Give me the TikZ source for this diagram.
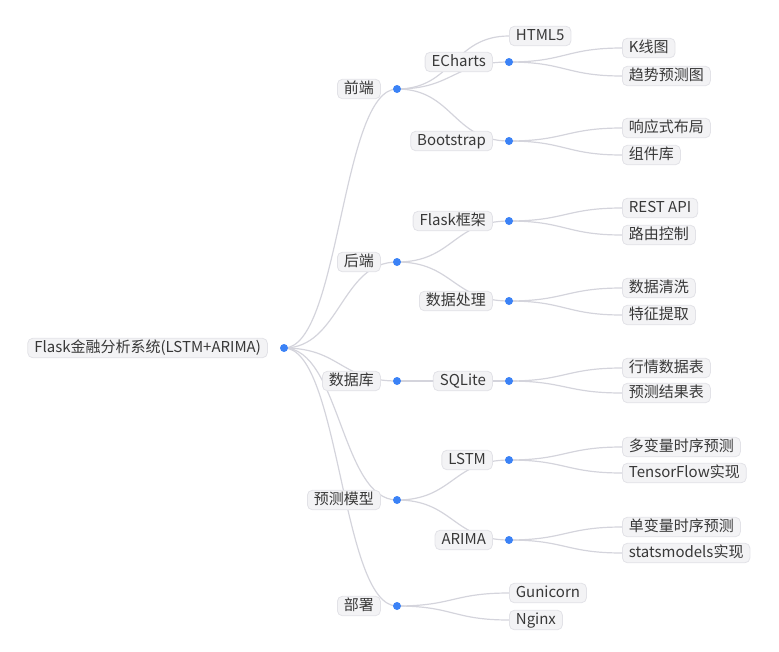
\documentclass[tikz,border=0pt]{standalone}
\usepackage{fontspec}
\setmainfont{Noto Sans CJK SC}
\usetikzlibrary{positioning}
\definecolor{linkgray}{HTML}{D4D4DC}
\definecolor{boxfill}{HTML}{F3F3F5}
\definecolor{boxline}{HTML}{E2E2E7}
\definecolor{textgray}{HTML}{383838}
\definecolor{dotblue}{HTML}{3B82F6}
\pgfdeclarelayer{bg}
\pgfsetlayers{bg,main}
\tikzset{
  topic/.style={draw=boxline, fill=boxfill, line width=0.8pt, rounded corners=5pt,
    text=textgray, font=\fontsize{15}{17}\selectfont, inner xsep=6.5pt, inner ysep=0pt,
    minimum height=19.5pt, text height=11pt, text depth=3pt},
  leaf/.style={topic, anchor=west},
  dot/.style={circle, fill=dotblue, inner sep=0pt, minimum size=8pt},
  link/.style={draw=linkgray, line width=1.2pt}
}
\newcommand{\branch}[2]{\draw[link] (#1) .. controls +(56,0) and +(-56,0) .. (#2);}

\begin{document}
\begin{tikzpicture}[x=1pt,y=-1pt]
	\useasboundingbox (0,0) rectangle (779,651);

	% Root
	\node[dot] (root-d) at (284,348) {};
	\node[topic, left=12pt of root-d] (root) {Flask金融分析系统(LSTM+ARIMA)};

	% First level
	\node[dot] (fe-d) at (397,89) {};		\node[topic, left=12pt of fe-d] (fe) {前端};
	\node[dot] (be-d) at (397,262) {};		\node[topic, left=12pt of be-d] (be) {后端};
	\node[dot] (db-d) at (397,381) {};		\node[topic, left=12pt of db-d] (db) {数据库};
	\node[dot] (model-d) at (397,500) {};	\node[topic, left=12pt of model-d] (model) {预测模型};
	\node[dot] (deploy-d) at (397,606) {};	\node[topic, left=12pt of deploy-d] (deploy) {部署};

	% Second level
	\node[leaf] (html) at (509,36) {HTML5};
	\node[dot] (echarts-d) at (509,62) {};		\node[topic, left=12pt of echarts-d] (echarts) {ECharts};
	\node[dot] (bootstrap-d) at (509,141) {};	\node[topic, left=12pt of bootstrap-d] (bootstrap) {Bootstrap};
	\node[dot] (flask-d) at (509,221) {};		\node[topic, left=12pt of flask-d] (flask) {Flask框架};
	\node[dot] (proc-d) at (509,301) {};		\node[topic, left=12pt of proc-d] (proc) {数据处理};
	\node[dot] (sqlite-d) at (509,381) {};		\node[topic, left=12pt of sqlite-d] (sqlite) {SQLite};
	\node[dot] (lstm-d) at (509,460) {};		\node[topic, left=12pt of lstm-d] (lstm) {LSTM};
	\node[dot] (arima-d) at (509,540) {};		\node[topic, left=12pt of arima-d] (arima) {ARIMA};
	\node[leaf] (gunicorn) at (509,593) {Gunicorn};
	\node[leaf] (nginx) at (509,620) {Nginx};

	% Third level
	\node[leaf] (kline) at (622,48) {K线图};
	\node[leaf] (trend) at (622,76) {趋势预测图};
	\node[leaf] (resp) at (622,128) {响应式布局};
	\node[leaf] (comp) at (622,155) {组件库};
	\node[leaf] (rest) at (622,208) {REST API};
	\node[leaf] (route) at (622,235) {路由控制};
	\node[leaf] (clean) at (622,288) {数据清洗};
	\node[leaf] (feat) at (622,315) {特征提取};
	\node[leaf] (quote) at (622,368) {行情数据表};
	\node[leaf] (result) at (622,393) {预测结果表};
	\node[leaf] (multi) at (622,447) {多变量时序预测};
	\node[leaf] (tf) at (622,473) {TensorFlow实现};
	\node[leaf] (uni) at (622,527) {单变量时序预测};
	\node[leaf] (sm) at (622,553) {statsmodels实现};

	\begin{pgfonlayer}{bg}
		% Root links
		\branch{root-d.center}{fe-d.center}
		\branch{root-d.center}{be-d.center}
		\branch{root-d.center}{db-d.center}
		\branch{root-d.center}{model-d.center}
		\branch{root-d.center}{deploy-d.center}

		% Frontend
		\branch{fe-d.center}{html.west}
		\branch{fe-d.center}{echarts-d.center}
		\branch{fe-d.center}{bootstrap-d.center}
		\branch{echarts-d.center}{kline.west}
		\branch{echarts-d.center}{trend.west}
		\branch{bootstrap-d.center}{resp.west}
		\branch{bootstrap-d.center}{comp.west}

		% Backend
		\branch{be-d.center}{flask-d.center}
		\branch{be-d.center}{proc-d.center}
		\branch{flask-d.center}{rest.west}
		\branch{flask-d.center}{route.west}
		\branch{proc-d.center}{clean.west}
		\branch{proc-d.center}{feat.west}

		% Database
		\branch{db-d.center}{sqlite-d.center}
		\branch{sqlite-d.center}{quote.west}
		\branch{sqlite-d.center}{result.west}

		% Models
		\branch{model-d.center}{lstm-d.center}
		\branch{model-d.center}{arima-d.center}
		\branch{lstm-d.center}{multi.west}
		\branch{lstm-d.center}{tf.west}
		\branch{arima-d.center}{uni.west}
		\branch{arima-d.center}{sm.west}

		% Deployment
		\branch{deploy-d.center}{gunicorn.west}
		\branch{deploy-d.center}{nginx.west}
	\end{pgfonlayer}
\end{tikzpicture}
\end{document}
